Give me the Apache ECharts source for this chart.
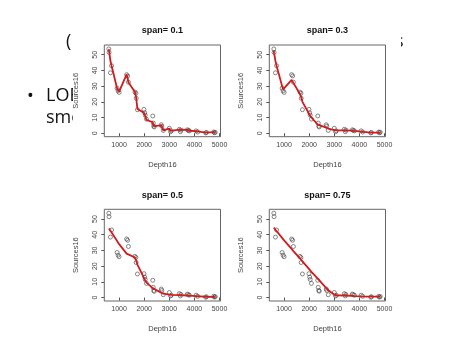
<!DOCTYPE html>
<html>
<head>
<meta charset="utf-8">
<script src="https://cdn.jsdelivr.net/npm/echarts@6/dist/echarts.min.js"></script>
<style>html,body{margin:0;padding:0;background:#fff;}#c{width:474px;height:355px;}</style>
</head>
<body>
<div id="c"></div>
<script>
// Observed data (Depth16, Sources16)
const depth16 = [590,600,655,700,920,960,1000,1300,1340,1370,1630,1670,1680,1730,1990,2020,2040,2090,2340,2360,2380,2400,2680,2700,2760,3000,3050,3080,3400,3440,3460,3720,3760,3800,4070,4130,4450,4480,4770,4800,4830];
const sources16 = [53.7,51.5,38.5,43,28.7,27,26,37.3,36.5,32.5,26.2,25.5,22.3,15,15.2,13,11.5,9,11,6.5,4.5,4,5.4,4.5,1.8,3.2,1,1.5,2.5,1,2,2.2,1.8,1.5,1.5,0.8,0.2,0.5,0.8,0.3,0.6];
// LOESS fitted values at each depth, by span
const spans = ['0.1','0.3','0.5','0.75'];
const fit01 = [53.5,52.5,46,43,28.5,27.5,26.5,37.5,35,32.5,26.3,25.5,22.5,15.5,13,12.5,11,8.5,7,6,4.5,3.8,5,4.5,1.8,3,1.5,1.2,2.3,1.2,1.5,2.2,2,1.6,1.3,1,0.4,0.5,0.7,0.7,0.7];
const fit03 = [52.5,51,46,43,30,28,27.5,34,34.5,33,25,23.5,22.5,20,12.5,11.5,11,10,5.5,5.3,5,4.8,3.6,3.5,3,2,1.9,1.8,1.8,1.8,1.8,1.7,1.6,1.5,1,0.9,0.4,0.4,0.4,0.4,0.4];
const fit05 = [44,43.5,42.5,41.5,36,35,34,28,27.5,27,25.5,24,23.5,21,12.5,11.5,10.8,9.5,6,5.8,5.5,5.2,3,2.9,2.5,1.8,1.7,1.7,1.6,1.6,1.6,1.3,1.3,1.2,0.9,0.8,0.5,0.5,0.4,0.4,0.4];
const fit075 = [44.5,44.3,43.2,42.3,38,37.2,36.4,31,30.2,29.6,25,24.2,24,23,18.3,17.7,17.3,16.4,12,11.6,11.3,10.9,6,5.6,4.6,1.8,1.5,1.4,1.3,1.2,1.2,1.0,1.0,0.9,0.7,0.7,0.6,0.6,0.6,0.6,0.6];
const fits = [fit01, fit03, fit05, fit075];
const xTicks = [1000,2000,3000,4000,5000];
const yTicks = [0,10,20,30,40,50];

const panels = [
  {left:104.3, top:45},
  {left:269.3, top:45},
  {left:104.3, top:209.3},
  {left:269.3, top:209.3}
];
const W = 116.2, H = 91.7;
const axisCol = '#555';
const grids = [], xAxes = [], yAxes = [], series = [], graphics = [];

// slide background text (partially covered by the plot image)
graphics.push({type:'text', left:66, top:33, z:-3, style:{text:'(', font:'18px "Open Sans", sans-serif', fill:'#111'}});
graphics.push({type:'text', left:395, top:33, z:-3, style:{text:'s', font:'18px "Open Sans", sans-serif', fill:'#111'}});
graphics.push({type:'text', left:27, top:88, z:-3, style:{text:'•', font:'18px "Open Sans", sans-serif', fill:'#111'}});
graphics.push({type:'text', left:46, top:87, z:-3, style:{text:'LOESS', font:'18px "Open Sans", sans-serif', fill:'#111'}});
graphics.push({type:'text', left:46, top:109, z:-3, style:{text:'smoothing', font:'18px "Open Sans", sans-serif', fill:'#111'}});
graphics.push({type:'rect', z:-2, shape:{x:73, y:10, width:328, height:340}, style:{fill:'#fff'}});

panels.forEach((p, i) => {
  grids.push({left:p.left, top:p.top, width:W, height:H, show:true, borderColor:'#666', borderWidth:1, backgroundColor:'transparent'});
  xAxes.push({
    type:'value', gridIndex:i, min:410, max:5040,
    name:'Depth16', nameLocation:'middle', nameGap:24,
    nameTextStyle:{fontSize:7.5, color:'#444', fontFamily:'Liberation Sans'},
    axisLine:{show:false},
    axisTick:{show:true, length:3, customValues:xTicks, lineStyle:{color:axisCol}},
    axisLabel:{customValues:xTicks, fontSize:7, color:'#444', margin:5, fontFamily:'Liberation Sans', formatter:(v) => String(v)},
    splitLine:{show:false}
  });
  yAxes.push({
    type:'value', gridIndex:i, min:-2.2, max:56.2,
    name:'Sources16', nameLocation:'middle', nameGap:24,
    nameTextStyle:{fontSize:7.5, color:'#444', fontFamily:'Liberation Sans'},
    axisLine:{show:false},
    axisTick:{show:true, length:3, customValues:yTicks, lineStyle:{color:axisCol}},
    axisLabel:{customValues:yTicks, fontSize:7, color:'#444', margin:6, rotate:90, fontFamily:'Liberation Sans', formatter:(v) => String(v)},
    splitLine:{show:false}
  });
  series.push({
    type:'scatter', xAxisIndex:i, yAxisIndex:i,
    data: depth16.map((d, k) => [d, sources16[k]]),
    symbol:'circle', symbolSize:4,
    itemStyle:{color:'transparent', borderColor:'#444', borderWidth:0.8},
    z:2, silent:true
  });
  series.push({
    type:'line', xAxisIndex:i, yAxisIndex:i,
    data: depth16.map((d, k) => [d, fits[i][k]]),
    showSymbol:false, symbol:'none',
    lineStyle:{color:'#d01c1c', width:1.8},
    z:3, silent:true
  });
  graphics.push({type:'text', z:5,
    style:{text:'span= ' + spans[i], x:p.left + W/2, y:p.top - 14, textAlign:'center', textVerticalAlign:'middle',
      font:'bold 9px "Liberation Sans", sans-serif', fill:'#111'}});
});

const chart = echarts.init(document.getElementById('c'), null, {renderer:'canvas'});
chart.setOption({
  backgroundColor:'#fff',
  animation:false,
  grid:grids, xAxis:xAxes, yAxis:yAxes, series:series,
  graphic:{elements:graphics}
});
</script>
</body>
</html>
